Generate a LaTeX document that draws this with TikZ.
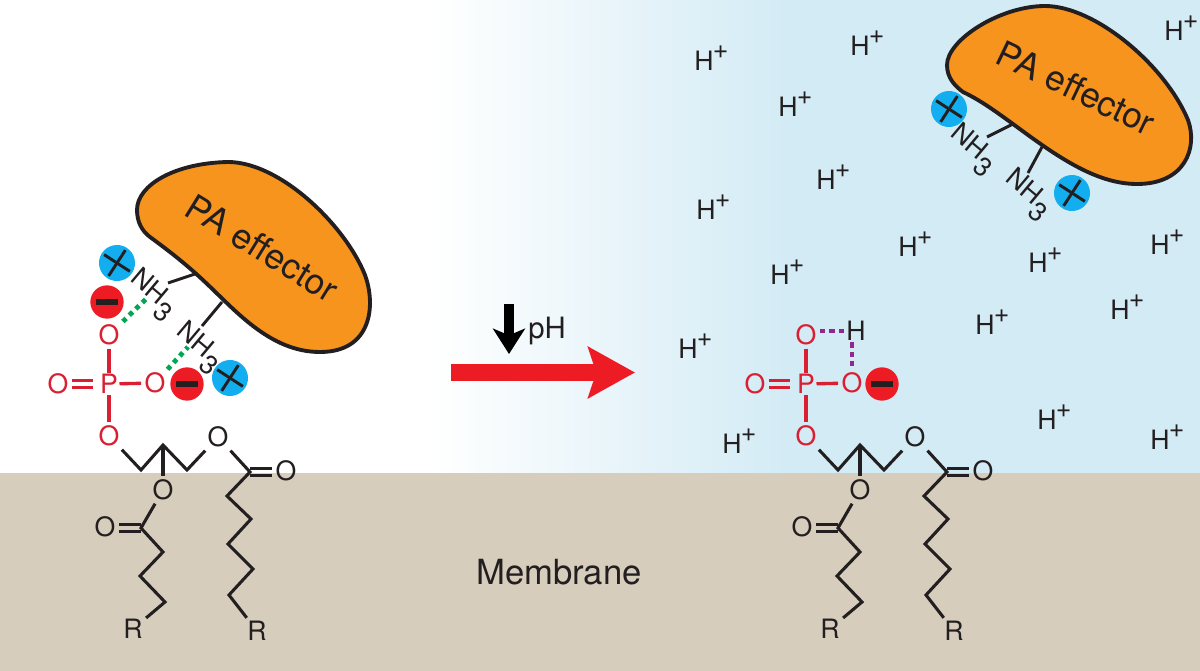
\documentclass[tikz,border=0pt]{standalone}
\usepackage{fontspec}
\setmainfont{TeX Gyre Heros}
\usetikzlibrary{arrows.meta}
\definecolor{ink}{HTML}{231F20}
\definecolor{bgblue}{HTML}{D3EBF5}
\definecolor{membrane}{HTML}{D6CDBD}
\definecolor{effector}{HTML}{F7941E}
\definecolor{headred}{HTML}{ED1C24}
\definecolor{lipidred}{HTML}{DA1F33}
\definecolor{ionblue}{HTML}{12AEEF}
\definecolor{saltgreen}{HTML}{00A651}
\definecolor{hbondpurple}{HTML}{92278F}
\newcommand{\hplus}{H\raisebox{8.5pt}{\fontsize{20}{20}\selectfont\kern-0.5pt+}}
\newcommand{\nhthree}{NH\raisebox{-8.5pt}{3}}
\tikzset{
	atom/.style={font=\fontsize{20}{22}\selectfont, text=ink, inner sep=2.4pt},
	redatom/.style={atom, text=lipidred},
	bond/.style={draw=ink, line width=2.3pt, line join=miter},
	redbond/.style={draw=lipidred, line width=2.5pt},
	stem/.style={draw=ink, line width=2.2pt},
	blob/.style={fill=effector, draw=ink, line width=2.9pt},
	palabel/.style={font=\fontsize{26.5}{28}\selectfont, text=ink},
	minusion/.style={circle, fill=headred, minimum size=25pt, inner sep=0pt,
		path picture={\fill[ink] (-8.2pt,-1.9pt) rectangle (8.2pt,1.9pt);}},
	plusion/.style={circle, fill=ionblue, minimum size=27pt, inner sep=0pt,
		path picture={\fill[ink] (-11.5pt,-1.1pt) rectangle (11.5pt,1.1pt);
			\fill[ink] (-1.1pt,-11.5pt) rectangle (1.1pt,11.5pt);}},
	salt/.style={draw=saltgreen, line width=3.6pt, dash pattern=on 3.4pt off 3.4pt},
	hbond/.style={draw=hbondpurple, line width=2.6pt, dash pattern=on 4pt off 3pt},
	lipid/.pic={
		% head group
		\node[redatom] (O1) at (109,335) {O};
		\node[redatom, inner sep=1pt] (P) at (109,384) {P};
		\node[redatom] (O2) at (58,384) {O};
		\node[redatom] (O3) at (155,383) {O};
		\node[redatom] (O4) at (109,436) {O};
		\draw[redbond] (O1) -- (P);
		\draw[redbond] (P) -- (O3);
		\draw[redbond] (P) -- (O4);
		\draw[redbond] ([yshift=2.8pt]O2.east) -- ([yshift=2.8pt,xshift=-4pt]P.west);
		\draw[redbond] ([yshift=-2.8pt]O2.east) -- ([yshift=-2.8pt,xshift=-4pt]P.west);
		% glycerol and the two tails
		\node[atom] (O5) at (218,437) {O};
		\node[atom] (O6) at (163,490) {O};
		\node[atom] (O7) at (286,471) {O};
		\node[atom] (O8) at (105,527) {O};
		\node[atom] (R1) at (133,629) {R};
		\node[atom] (R2) at (257,631) {R};
		\foreach \n/\x/\y in {g1/141/470, g2/163/445, g3/187/470,
			a0/250/472, a1/227/496, a2/251/519, a3/228/544, a4/253/569, a5/229/595,
			b0/141/528, b1/163/552, b2/140/576, b3/165/602} {
			\coordinate (\n) at (\x,\y);
		}
		\draw[bond] (O4) -- (g1) -- (g2) -- (g3) -- (O5);
		\draw[bond] (g2) -- (O6);
		\draw[bond] (O5) -- (a0) -- (a1) -- (a2) -- (a3) -- (a4) -- (a5) -- (R2);
		\draw[bond] (O6) -- (b0) -- (b1) -- (b2) -- (b3) -- (R1);
		\draw[bond] ([yshift=2.4pt]a0) -- ([yshift=2.4pt]a0 -| O7.west);
		\draw[bond] ([yshift=-2.4pt]a0) -- ([yshift=-2.4pt]a0 -| O7.west);
		\draw[bond] ([yshift=2.4pt]b0) -- ([yshift=2.4pt]b0 -| O8.east);
		\draw[bond] ([yshift=-2.4pt]b0) -- ([yshift=-2.4pt]b0 -| O8.east);
	}
}
\begin{document}
\begin{tikzpicture}[x=0.75pt, y=-0.75pt]
	\useasboundingbox (0,0) rectangle (1200,671);
	% backdrop
	\shade[left color=white, right color=bgblue] (430,0) rectangle (790,473);
	\fill[bgblue] (790,0) rectangle (1200,473);
	\fill[membrane] (0,473) rectangle (1200,671);
	\node[font=\fontsize{26}{28}\selectfont, text=ink] (memb) at (559,572) {Membrane};

	\pic (l) at (0,0) {lipid};
	\pic (r) at (697,0) {lipid};

	% bound effector
	\draw[blob] (137,210) .. controls (137,185) and (175,163) .. (228,162)
		.. controls (280,162) and (345,225) .. (365,275)
		.. controls (376,305) and (372,352) .. (320,352)
		.. controls (270,352) and (235,310) .. (205,282)
		.. controls (185,263) and (165,248) .. (150,237)
		.. controls (142,231) and (137,222) .. (137,210) -- cycle;
	\node[palabel, rotate=-31.6] (pa1) at (262,248) {PA effector};
	\node[atom, rotate=-40] (nh1) at (152,295) {\nhthree};
	\node[atom, rotate=-40] (nh2) at (198,348) {\nhthree};
	\coordinate (s1) at (195,274);
	\coordinate (s2) at (222,302);
	\coordinate (e1) at (168,283);
	\coordinate (e2) at (202,326);
	\draw[stem] (e1) -- (s1);
	\draw[stem] (e2) -- (s2);
	\node[plusion, rotate=-33] (p1) at (117,263) {};
	\node[plusion, rotate=-33] (p2) at (230,378) {};
	\node[minusion] (m1) at (107,302) {};
	\node[minusion] (m2) at (187,384) {};
	\coordinate (d1) at (147,298);
	\coordinate (d2) at (188,347);
	\draw[salt] (lO1) -- (d1);
	\draw[salt] (lO3) -- (d2);

	% pH drop
	\coordinate (a1) at (451,372.5);
	\coordinate (a2) at (635,372.5);
	\coordinate (a3) at (509,304);
	\coordinate (a4) at (509,354);
	\draw[-{Stealth[length=35pt, width=38pt, inset=6pt]}, draw=headred, fill=headred, line width=13pt] (a1) -- (a2);
	\draw[-{Stealth[length=19pt, width=24pt, inset=5pt]}, draw=black, fill=black, line width=8pt] (a3) -- (a4);
	\node[font=\fontsize{22}{24}\selectfont, text=ink] (ph) at (547,331) {pH};

	% free effector
	\draw[blob] (947,65) .. controls (947,40) and (1000,6) .. (1045,6)
		.. controls (1095,6) and (1165,65) .. (1188,120)
		.. controls (1198,148) and (1185,184) .. (1137,184)
		.. controls (1095,184) and (1055,155) .. (1013,124)
		.. controls (995,111) and (980,100) .. (963,92)
		.. controls (955,86) and (947,78) .. (947,65) -- cycle;
	\node[palabel, rotate=-25.6] (pa2) at (1076,88) {PA effector};
	\node[atom, rotate=-40] (nh3) at (972,150) {\nhthree};
	\node[atom, rotate=-40] (nh4) at (1027,195) {\nhthree};
	\coordinate (s3) at (1013,124);
	\coordinate (s4) at (1042,147);
	\coordinate (e3) at (987,137);
	\coordinate (e4) at (1028,173);
	\draw[stem] (e3) -- (s3);
	\draw[stem] (e4) -- (s4);
	\node[plusion, rotate=-33] (p3) at (949,109) {};
	\node[plusion, rotate=-33] (p4) at (1072,193) {};

	% protonated head group
	\node[atom, inner sep=1pt] (hh) at (856,331) {H};
	\draw[hbond] (rO1.east |- hh.west) -- (hh.west);
	\draw[hbond] (rO3 |- hh.south) -- (rO3.north);
	\node[minusion] (m3) at (882,384) {};

	\foreach \i/\x/\y in {1/704/61, 2/860/46, 3/1174/31, 4/788/107, 5/826/180, 6/706/210, 7/908/247, 8/780/275,
		9/1038/263, 10/1160/245, 11/985/325, 12/1120/310, 13/688/349, 14/732/444, 15/1047/420, 16/1160/440} {
		\node[atom, anchor=base west, inner sep=0pt] (h\i) at (\x-10,\y+9) {\hplus};
	}
\end{tikzpicture}
\end{document}
